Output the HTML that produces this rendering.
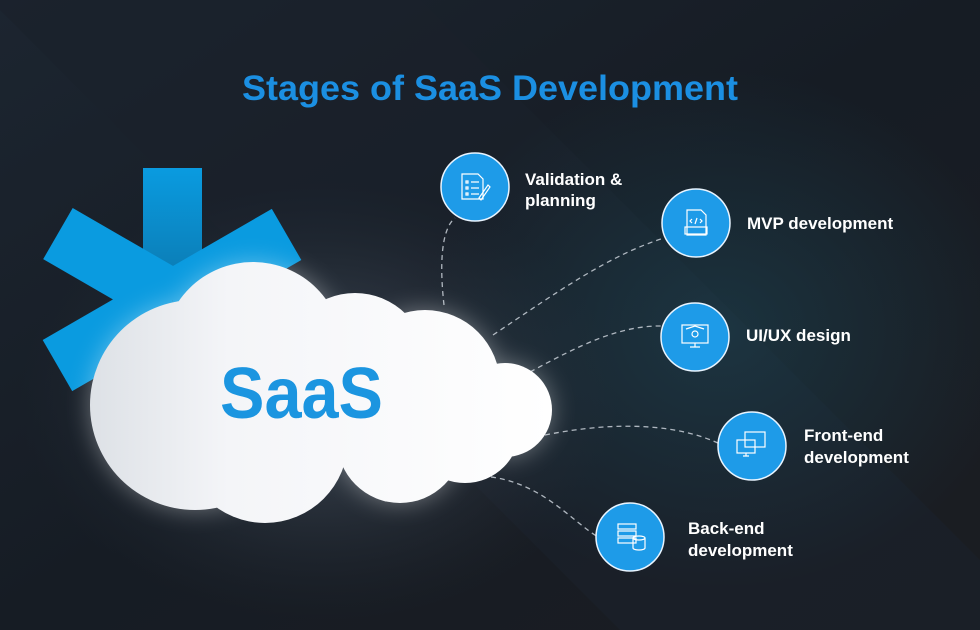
<!DOCTYPE html>
<html><head><meta charset="utf-8"><style>
html,body{margin:0;padding:0;background:#161b22;}
svg{display:block}
</style></head><body>
<svg width="980" height="630" viewBox="0 0 980 630" xmlns="http://www.w3.org/2000/svg" font-family="Liberation Sans, sans-serif">
<defs>
<linearGradient id="bg" x1="0" y1="0" x2="1" y2="1">
<stop offset="0" stop-color="#1c2530"/><stop offset="0.5" stop-color="#161c24"/><stop offset="1" stop-color="#1b1d22"/>
</linearGradient>
<radialGradient id="glow" cx="0.5" cy="0.5" r="0.5">
<stop offset="0" stop-color="#6a7888" stop-opacity="0.6"/><stop offset="1" stop-color="#2a3440" stop-opacity="0"/>
</radialGradient>
<radialGradient id="glow2" cx="0.5" cy="0.5" r="0.5">
<stop offset="0" stop-color="#1f4a5a" stop-opacity="0.5"/><stop offset="1" stop-color="#1f4a5a" stop-opacity="0"/>
</radialGradient>
<linearGradient id="ast" gradientUnits="userSpaceOnUse" x1="0" y1="168" x2="0" y2="400">
<stop offset="0" stop-color="#0a9be0"/><stop offset="1" stop-color="#0d5a84"/>
</linearGradient>
<linearGradient id="cloud" gradientUnits="userSpaceOnUse" x1="90" y1="0" x2="552" y2="0">
<stop offset="0" stop-color="#dde1e6"/><stop offset="0.3" stop-color="#f4f5f8"/><stop offset="1" stop-color="#ffffff"/>
</linearGradient>
<filter id="blur"><feGaussianBlur stdDeviation="12"/></filter>
</defs>
<rect width="980" height="630" fill="url(#bg)"/>
<polygon points="0,0 420,0 980,560 980,630 620,630 0,10" fill="#1a222b" opacity="0.6"/>
<ellipse cx="720" cy="330" rx="300" ry="260" fill="url(#glow2)"/>
<ellipse cx="320" cy="400" rx="300" ry="220" fill="url(#glow)"/>
<g fill="url(#ast)">
<rect x="143" y="168" width="59" height="130"/>
<g transform="translate(172,300) rotate(-60)"><rect x="-29" y="-132" width="59" height="132"/></g>
<g transform="translate(172,300) rotate(-120)"><rect x="-29" y="-132" width="59" height="132"/></g>
<g transform="translate(172,300) rotate(60)"><rect x="-29" y="-132" width="59" height="132"/></g>
</g>
<g fill="none" stroke="#c9d0d8" stroke-width="1.3" stroke-dasharray="5,4" opacity="0.85">
<path d="M444,305 C440,270 440,230 455,218"/>
<path d="M493,335 C560,290 610,255 664,238"/>
<path d="M530,372 C580,345 620,325 663,326"/>
<path d="M545,435 C620,420 680,425 720,444"/>
<path d="M482,476 C540,480 570,520 598,537"/>
</g>
<g fill="#ffffff" opacity="0.35" filter="url(#blur)">
<circle cx="253" cy="352" r="90"/><circle cx="425" cy="385" r="75"/><circle cx="195" cy="405" r="105"/><circle cx="400" cy="440" r="63"/><circle cx="505" cy="410" r="47"/>
</g>
<g fill="url(#cloud)">
<circle cx="253" cy="352" r="90"/>
<circle cx="355" cy="365" r="72"/>
<circle cx="425" cy="385" r="75"/>
<circle cx="505" cy="410" r="47"/>
<circle cx="195" cy="405" r="105"/>
<circle cx="265" cy="440" r="83"/>
<circle cx="400" cy="440" r="63"/>
<circle cx="465" cy="428" r="55"/>
<rect x="200" y="365" width="285" height="95"/>
</g>
<text x="220" y="418" font-size="72" font-weight="bold" fill="#1b95e0" textLength="163" lengthAdjust="spacingAndGlyphs">SaaS</text>
<text x="242" y="100" font-size="35" font-weight="bold" fill="#1b8fe2" textLength="496" lengthAdjust="spacingAndGlyphs">Stages of SaaS Development</text>
<g fill="#1e9be8" stroke="#e8f4ff" stroke-width="1.5">
<circle cx="475" cy="187" r="34"/>
<circle cx="696" cy="223" r="34"/>
<circle cx="695" cy="337" r="34"/>
<circle cx="752" cy="446" r="34"/>
<circle cx="630" cy="537" r="34"/>
</g>
<g fill="none" stroke="#fff" stroke-width="1.2">
<path d="M462,174 h16 l5,5 v20 h-21z"/><path d="M466,181h2v2h-2zM466,187h2v2h-2zM466,193h2v2h-2zM471,182h8M471,188h8M471,194h8"/><path d="M479,198 l9,-13 2,2 -9,13z"/>
<path d="M687,210 h14 l5,5 v20 h-19z"/><rect x="685" y="227" width="22" height="7"/><path d="M692,219 l-2,2 2,2 M700,219 l2,2 -2,2 M697,218 l-2,6"/>
<rect x="682" y="325" width="26" height="18"/><path d="M690,347 h10 M695,343 v4"/><circle cx="695" cy="334" r="3"/><path d="M686,329 l9,-3 9,3"/>
<rect x="745" y="432" width="20" height="15"/><rect x="737" y="440" width="18" height="13"/><path d="M743,456 h6 M746,453 v3"/>
<rect x="618" y="524" width="18" height="5"/><rect x="618" y="531" width="18" height="5"/><rect x="618" y="538" width="18" height="5"/><ellipse cx="639" cy="538" rx="6" ry="2"/><path d="M633,538 v10 a6,2 0 0 0 12,0 v-10"/>
</g>
<g fill="#ffffff" font-size="17" font-weight="bold">
<text x="525" y="185">Validation &amp;</text>
<text x="525" y="206">planning</text>
<text x="747" y="229">MVP development</text>
<text x="746" y="341">UI/UX design</text>
<text x="804" y="441">Front-end</text>
<text x="804" y="463">development</text>
<text x="688" y="534">Back-end</text>
<text x="688" y="556">development</text>
</g>
</svg>
</body></html>
